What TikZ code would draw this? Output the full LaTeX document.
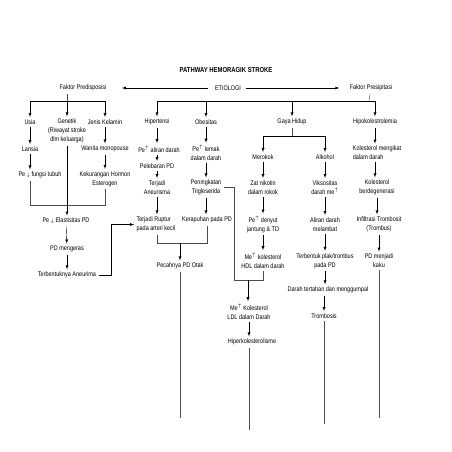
\documentclass[tikz,border=0pt]{standalone}
\usepackage{fontspec}
\setmainfont[FakeStretch=0.82]{Liberation Sans}
\usetikzlibrary{arrows,calc}
\newcommand{\naik}{$^{\uparrow}$}
\newcommand{\turun}{\,$\scriptstyle\downarrow$}

\begin{document}
\begin{tikzpicture}[x=1pt,y=-1pt,
  teks/.style={align=center,inner sep=1pt,outer sep=1.5pt,font=\fontsize{6.7}{9}\selectfont},
  kiri/.style={teks,align=left},
  garis/.style={draw=black!70,line width=0.4pt},
  arr/.style={draw=black,line width=0.4pt,-latex}]
\useasboundingbox (0,0) rectangle (452,452);

% judul dan etiologi
\node[teks,font=\fontsize{7.2}{9}\selectfont\bfseries] (judul) at (226,70) {PATHWAY HEMORAGIK STROKE};
\node[teks] (etio) at (228,88) {ETIOLOGI};
\node[teks] (pred) at (83,88) {Faktor Predisposisi};
\node[teks] (pres) at (371,88) {Faktor Presipitasi};
\draw[arr,shorten <=5pt,shorten >=13pt] (etio) -- (pred);
\draw[arr,shorten <=3pt,shorten >=8pt] (etio) -- (pres);

% faktor predisposisi
\node[teks] (usia) at (30,122) {Usia};
\node[teks] (genetik) at (67,131) {Genetik\\(Riwayat stroke\\dlm keluarga)};
\node[teks] (jk) at (105,122) {Jenis Kelamin};
\node[teks] (lansia) at (30,149) {Lansia};
\node[teks] (fungsi) at (40,175) {Pe\turun\ fungsi tubuh};
\node[teks] (wanita) at (105,149) {Wanita monopouse};
\node[teks] (hormon) at (105,179) {Kekurangan Hormon\\Esterogen};
\node[teks] (elast) at (66,221) {Pe\turun\ Elastisitas PD};
\node[teks] (mengeras) at (67,249) {PD mengeras};
\node[teks] (aneurima) at (67,275) {Terbentuknya Aneurima};

\coordinate (busa) at (67,101);
\coordinate (gabung) at (67,205);
\draw[garis] (genetik |- pred.south) -- (busa);
\draw[arr] (busa) -| (usia);
\draw[arr] (busa) -| (jk);
\draw[arr] (busa) -- (genetik);
\draw[arr] (usia) -- (lansia);
\draw[arr] (lansia) -- (lansia |- fungsi.north);
\draw[arr] (jk) -- (wanita);
\draw[arr] (wanita) -- (hormon);
\draw[garis] (lansia |- fungsi.south) |- (hormon |- gabung) -- (hormon.south);
\draw[arr] (genetik) -- (genetik |- elast.north);
\draw[arr] (elast) -- (mengeras);
\draw[arr] (mengeras) -- (aneurima);

% faktor presipitasi
\node[teks] (hiper) at (157,122) {Hipertensi};
\node[teks] (aliran) at (159,149) {Pe\naik\ aliran darah};
\node[teks] (pelebaran) at (157,166) {Pelebaran PD};
\node[teks] (aneurisma) at (157,187.5) {Terjadi\\Aneurisma};
\node[kiri] (ruptur) at (156,224.5) {Terjadi Ruptur\\pada arteri kecil};
\node[teks] (pecah) at (180,266) {Pecahnya PD Otak};
\node[teks] (obes) at (206,122) {Obesitas};
\node[teks] (lemak) at (206,153) {Pe\naik\ lemak\\dalam darah};
\node[teks] (trigli) at (206,187.5) {Peningkatan\\Trigleserida};
\node[teks] (rapuh) at (207,220) {Kerapuhan pada PD};
\node[teks] (gaya) at (292,122) {Gaya Hidup};
\node[teks] (rokok) at (263,157) {Merokok};
\node[teks] (nikotin) at (263,187.5) {Zat nikotin\\dalam rokok};
\node[teks] (denyut) at (263,224.5) {Pe\naik\ denyut\\jantung \& TD};
\node[teks] (hdl) at (263,260.5) {Me\naik\ kolesterol\\HDL dalam darah};
\node[teks] (ldl) at (249,311.5) {Me\naik\ Kolesterol\\LDL dalam Darah};
\node[teks] (hiperkol) at (252,342) {Hiperkolesterolisme};
\node[teks] (alkohol) at (325,157) {Alkohol};
\node[teks] (viskos) at (325,187.5) {Viksositas\\darah me\naik};
\node[teks] (lambat) at (325,224.5) {Aliran darah\\melambat};
\node[teks] (plak) at (325,261) {Terbentuk plak/trombus\\pada PD};
\node[teks] (gumpal) at (328,290) {Darah tertahan dan menggumpal};
\node[teks] (trombosis) at (324,316) {Trombosis};
\node[teks] (hipokol) at (375,122) {Hipokolestrolemia};
\node[kiri] (ikat) at (377,153) {Kolesterol mengikat\\dalam darah};
\node[teks] (degen) at (377,187.5) {Kolesterol\\berdegenerasi};
\node[teks] (infil) at (379,224.5) {Infiltrasi Trombosit\\(Trombus)};
\node[teks] (kaku) at (379,261) {PD menjadi\\kaku};

\coordinate (busb) at (369,101);
\draw[garis] (pres) -- (busb);
\draw[arr] (busb) -| (hiper);
\draw[arr] (busb) -| (obes);
\draw[arr] (busb) -| (gaya);
\draw[arr] (busb) -| (hipokol);

% hipertensi
\draw[arr] (hiper) -- (hiper |- aliran.north);
\draw[arr] (hiper |- aliran.south) -- (pelebaran);
\draw[arr] (pelebaran) -- (aneurisma);
\draw[arr] (aneurisma) -- (aneurisma |- ruptur.north);
\draw[arr] (aneurima.east) -- ++(13,0) |- (ruptur);
\coordinate (pecahjoin) at (180,243);
\draw[garis] (aneurisma |- ruptur.south) |- (rapuh |- pecahjoin) -- (rapuh.south);
\draw[arr] (pecahjoin) -- (pecah);
\coordinate (ujungpecah) at (180,418);
\draw[garis] (pecah) -- (ujungpecah);

% obesitas
\draw[arr] (obes) -- (lemak);
\draw[arr] (lemak) -- (trigli);
\draw[arr] (trigli) -- (trigli |- rapuh.north);
\coordinate (ldljoin) at (248,280);
\draw[garis] (trigli) -| ([xshift=-14pt]ldljoin) -- (hdl |- ldljoin) -- (hdl);
\draw[arr] (ldljoin) -- (ldljoin |- ldl.north);
\draw[arr] (ldl) -- (ldl |- hiperkol.north);
\coordinate (ujunghiper) at (249,430);
\draw[garis] (ujunghiper |- hiperkol.south) -- (ujunghiper);

% gaya hidup
\coordinate (busc) at (292,136);
\draw[garis] (gaya) -- (busc);
\draw[arr] (busc) -| (rokok);
\draw[arr] (busc) -| (alkohol);
\draw[arr] (rokok) -- (nikotin);
\draw[arr] (nikotin) -- (denyut);
\draw[arr] (denyut) -- (hdl);
\draw[arr] (alkohol) -- (viskos);
\draw[arr] (viskos) -- (lambat);
\draw[arr] (lambat) -- (plak);
\draw[arr] (plak) -- (plak |- gumpal.north);
\draw[arr] (trombosis |- gumpal.south) -- (trombosis);
\coordinate (ujungtrombo) at (324,424);
\draw[garis] (trombosis) -- (ujungtrombo);

% hipokolestrolemia
\draw[arr] (hipokol) -- (hipokol |- ikat.north);
\draw[arr] (hipokol |- ikat.south) -- (hipokol |- degen.north);
\draw[arr] (degen) -- (degen |- infil.north);
\draw[arr] (infil) -- (kaku);
\coordinate (ujungkaku) at (379,418);
\draw[garis] (kaku) -- (ujungkaku);
\end{tikzpicture}
\end{document}
